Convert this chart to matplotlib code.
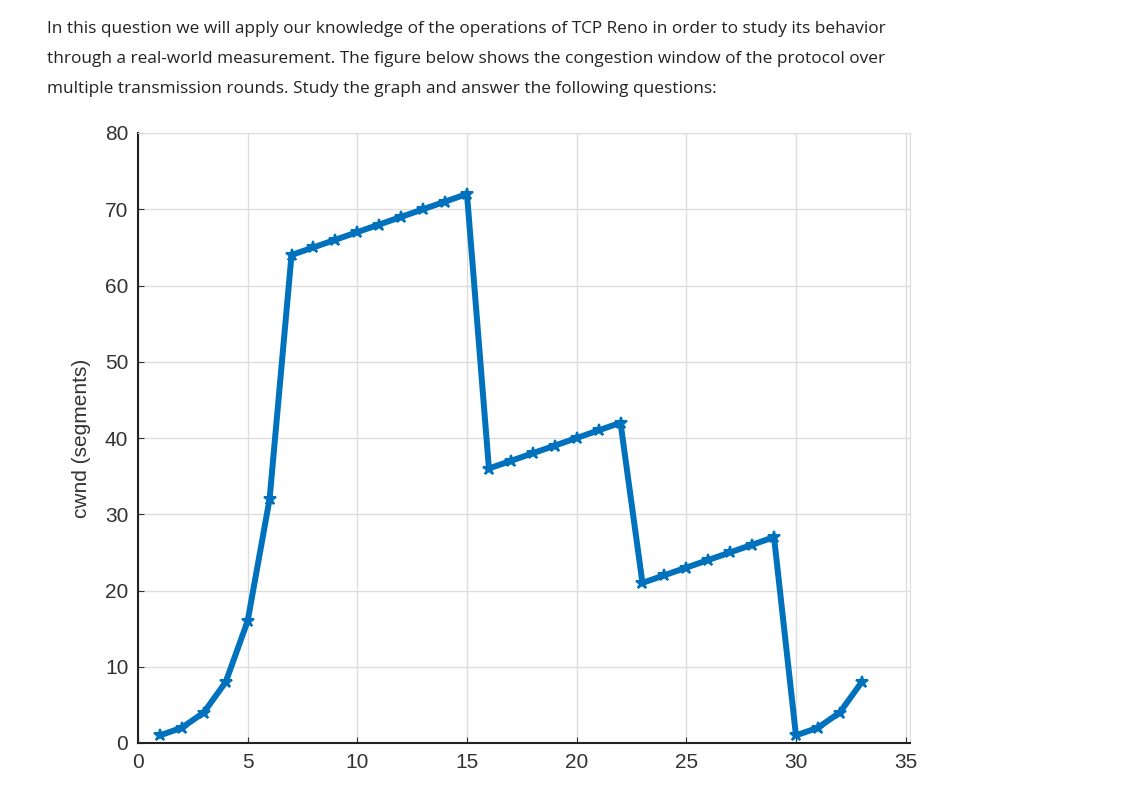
import matplotlib
matplotlib.use("Agg")
import matplotlib.pyplot as plt

rounds = list(range(1, 34))
cwnd = [1, 2, 4, 8, 16, 32, 64, 65, 66, 67, 68, 69, 70, 71, 72,
        36, 37, 38, 39, 40, 41, 42,
        21, 22, 23, 24, 25, 26, 27,
        1, 2, 4, 8]
xticks = [0, 5, 10, 15, 20, 25, 30, 35]
yticks = [0, 10, 20, 30, 40, 50, 60, 70, 80]

fig = plt.figure(figsize=(11.31, 7.91), dpi=100)
intro = ["In this question we will apply our knowledge of the operations of TCP Reno in order to study its behavior",
         "through a real-world measurement. The figure below shows the congestion window of the protocol over",
         "multiple transmission rounds. Study the graph and answer the following questions:"]
for i, line in enumerate(intro):
    fig.text(47/1131, 1 - (29 + 30*i)/791, line, fontsize=12.45, family="Open Sans",
             color="#222222", va="center", ha="left")

ax = fig.add_axes([138/1131, 48/791, 772/1131, 610/791])
ax.plot(rounds, cwnd, color="#0072BD", lw=4.3, marker="*", ms=9, mew=1.5)
ax.set_xlim(0, 35.2)
ax.set_ylim(0, 80)
ax.set_xticks(xticks)
ax.set_yticks(yticks)
ax.grid(True, color="#DDDDDD", lw=1)
ax.set_axisbelow(True)
for s in ["top", "right"]:
    ax.spines[s].set_color("#DDDDDD")
for s in ["left", "bottom"]:
    ax.spines[s].set_color("#222222")
    ax.spines[s].set_linewidth(1.5)
ax.tick_params(labelsize=15, colors="#333333", direction="in", length=4, pad=7)
for lbl in ax.get_xticklabels() + ax.get_yticklabels():
    lbl.set_family("Liberation Sans")
ax.set_ylabel("cwnd (segments)", fontsize=15, color="#333333", labelpad=10,
              family="Liberation Sans")
fig.savefig("out.png", dpi=100)
